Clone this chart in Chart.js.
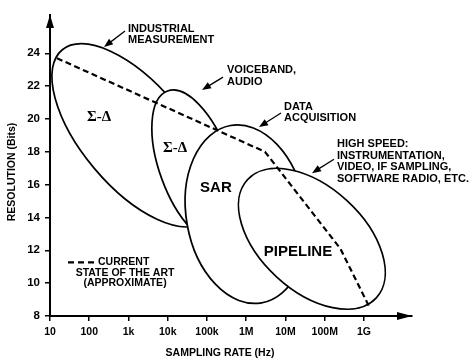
<!DOCTYPE html>
<html lang="en">
<head>
<meta charset="UTF-8">
<title>ADC architectures: resolution vs sampling rate</title>
<script src="https://cdn.jsdelivr.net/npm/chart.js"></script>
<style>
  body { margin: 0; background: #fff; }
  canvas { display: block; }
</style>
</head>
<body>
<canvas id="myChart" width="474" height="362"></canvas>
<script>
// axis ticks
const rateTicks = [10, 100, 1e3, 1e4, 1e5, 1e6, 1e7, 1e8, 1e9];
const rateLabels = ['10', '100', '1k', '10k', '100k', '1M', '10M', '100M', '1G'];
const bitTicks = [8, 10, 12, 14, 16, 18, 20, 22, 24];

// current state of the art (dashed line)
const artRate = [15, 3.0e6, 2.5e8, 1.4e9];
const artBits = [23.7, 18.0, 12.1, 8.5];

// architecture regions: centre, end of long axis, end of short axis (Hz, bits)
const regionNames = ['Σ-Δ', 'Σ-Δ', 'SAR', 'PIPELINE'];
const regionCentre = [[1380, 19.0], [49400, 17.1], [9.9e5, 14.2], [4.7e7, 12.7]];
const regionLong = [[94200, 13.8], [2.47e5, 12.5], [2.46e6, 8.8], [2.06e9, 9.1]];
const regionShort = [[14300, 21.0], [3.4e5, 17.9], [3.15e7, 14.8], [3.8e8, 15.0]];
const regionLabelAt = [[177, 20.1], [15300, 18.2], [1.69e5, 15.8], [2.08e7, 11.9]];

// callouts: text, where the text starts, arrow tail and head (Hz, bits)
const callouts = [
  { lines: ['INDUSTRIAL', 'MEASUREMENT'], at: [970, 25.48], tail: [815, 25.36], head: [238, 24.38] },
  { lines: ['VOICEBAND,', 'AUDIO'], at: [3.24e5, 22.98], tail: [2.56e5, 22.55], head: [74600, 21.76] },
  { lines: ['DATA', 'ACQUISITION'], at: [9.16e6, 20.73], tail: [7.67e6, 20.36], head: [2.11e6, 19.51] },
  { lines: ['HIGH SPEED:', 'INSTRUMENTATION,', 'VIDEO, IF SAMPLING,', 'SOFTWARE RADIO, ETC.'],
    at: [2.05e8, 18.47], tail: [1.72e8, 17.55], head: [4.73e7, 16.7] }
];
const legendAt = [815, 11.27];

const FONT = '"Liberation Sans", Arial, sans-serif';

function arrow(ctx, x0, y0, x1, y1) {
  const a = Math.atan2(y1 - y0, x1 - x0);
  ctx.beginPath();
  ctx.moveTo(x0, y0);
  ctx.lineTo(x1 - 6 * Math.cos(a), y1 - 6 * Math.sin(a));
  ctx.stroke();
  ctx.beginPath();
  ctx.moveTo(x1, y1);
  ctx.lineTo(x1 - 9 * Math.cos(a) + 3.5 * Math.sin(a), y1 - 9 * Math.sin(a) - 3.5 * Math.cos(a));
  ctx.lineTo(x1 - 9 * Math.cos(a) - 3.5 * Math.sin(a), y1 - 9 * Math.sin(a) + 3.5 * Math.cos(a));
  ctx.closePath();
  ctx.fill();
}

const regionsPlugin = {
  id: 'regions',
  beforeDatasetsDraw(chart) {
    const {ctx, scales: {x, y}} = chart;
    ctx.save();
    ctx.lineWidth = 1.7;
    ctx.strokeStyle = '#000';
    regionCentre.forEach((c, i) => {
      const cx = x.getPixelForValue(c[0]), cy = y.getPixelForValue(c[1]);
      const lx = x.getPixelForValue(regionLong[i][0]) - cx;
      const ly = y.getPixelForValue(regionLong[i][1]) - cy;
      const sx = x.getPixelForValue(regionShort[i][0]) - cx;
      const sy = y.getPixelForValue(regionShort[i][1]) - cy;
      ctx.beginPath();
      ctx.ellipse(cx, cy, Math.hypot(lx, ly), Math.hypot(sx, sy), Math.atan2(ly, lx), 0, Math.PI * 2);
      ctx.fillStyle = '#fff';
      ctx.fill();
      ctx.stroke();
    });
    ctx.fillStyle = '#000';
    ctx.textAlign = 'center';
    ctx.textBaseline = 'middle';
    regionNames.forEach((name, i) => {
      ctx.font = name === 'Σ-Δ' ? 'bold 15px "Liberation Serif", serif' : 'bold 15px ' + FONT;
      ctx.fillText(name, x.getPixelForValue(regionLabelAt[i][0]), y.getPixelForValue(regionLabelAt[i][1]));
    });
    ctx.restore();
  },
  afterDraw(chart) {
    const {ctx, chartArea: area, scales: {x, y}} = chart;
    ctx.save();
    ctx.fillStyle = '#000';
    ctx.strokeStyle = '#000';

    // axis arrow heads
    ctx.beginPath();
    ctx.moveTo(area.left, area.top);
    ctx.lineTo(area.left - 4, area.top + 13);
    ctx.lineTo(area.left + 4, area.top + 13);
    ctx.closePath();
    ctx.fill();
    ctx.beginPath();
    ctx.moveTo(area.right, area.bottom);
    ctx.lineTo(area.right - 15, area.bottom - 4);
    ctx.lineTo(area.right - 15, area.bottom + 4);
    ctx.closePath();
    ctx.fill();

    // callouts
    ctx.font = 'bold 11px ' + FONT;
    ctx.textAlign = 'left';
    ctx.textBaseline = 'middle';
    ctx.lineWidth = 1.3;
    callouts.forEach(c => {
      const tx = x.getPixelForValue(c.at[0]), ty = y.getPixelForValue(c.at[1]);
      c.lines.forEach((t, k) => ctx.fillText(t, tx, ty + k * 11.5));
      arrow(ctx, x.getPixelForValue(c.tail[0]), y.getPixelForValue(c.tail[1]),
        x.getPixelForValue(c.head[0]), y.getPixelForValue(c.head[1]));
    });

    // legend for the dashed line
    const lx = x.getPixelForValue(legendAt[0]), ly = y.getPixelForValue(legendAt[1]);
    ctx.lineWidth = 2.2;
    ctx.setLineDash([6, 4]);
    ctx.beginPath();
    ctx.moveTo(lx - 57, ly);
    ctx.lineTo(lx - 30, ly);
    ctx.stroke();
    ctx.setLineDash([]);
    ctx.font = 'bold 10.5px ' + FONT;
    ctx.fillText('CURRENT', lx - 27, ly);
    ctx.textAlign = 'center';
    ctx.fillText('STATE OF THE ART', lx, ly + 10.5);
    ctx.fillText('(APPROXIMATE)', lx, ly + 21);

    // axis titles
    ctx.font = 'bold 10.5px ' + FONT;
    ctx.fillText('SAMPLING RATE (Hz)', 220, 353);
    ctx.translate(12, 172);
    ctx.rotate(-Math.PI / 2);
    ctx.fillText('RESOLUTION (Bits)', 0, 0);
    ctx.restore();
  }
};

Chart.defaults.font.family = FONT;
Chart.defaults.font.weight = 'bold';
Chart.defaults.color = '#000';

const ctx = document.getElementById('myChart').getContext('2d');
new Chart(ctx, {
  type: 'line',
  data: {
    datasets: [{
      label: 'Current state of the art',
      data: artRate.map((r, i) => ({x: r, y: artBits[i]})),
      borderColor: '#000',
      borderWidth: 2.2,
      borderDash: [6, 3.5],
      pointRadius: 0,
      tension: 0,
      fill: false
    }]
  },
  options: {
    responsive: false,
    animation: false,
    layout: { padding: { top: 15, right: 62, left: 0, bottom: 0 } },
    plugins: { legend: { display: false }, tooltip: { enabled: false } },
    scales: {
      x: {
        type: 'logarithmic',
        min: 10,
        max: Math.pow(10, 10.223),
        afterBuildTicks: s => { s.ticks = rateTicks.map(v => ({value: v})); },
        afterFit: s => { s.height = 46; },
        ticks: {
          autoSkip: false, maxRotation: 0, padding: 5,
          font: { size: 10.5, weight: 'bold' },
          callback: (v, i) => rateLabels[i]
        },
        grid: { drawOnChartArea: false, drawTicks: true, tickLength: 5, color: '#000', lineWidth: 1.5 },
        border: { display: true, color: '#000', width: 2 }
      },
      y: {
        type: 'linear',
        min: 8,
        max: 26.33,
        afterBuildTicks: s => { s.ticks = bitTicks.map(v => ({value: v})); },
        afterFit: s => { s.width = 50; },
        ticks: { padding: 5, font: { size: 11.5, weight: 'bold' } },
        grid: { drawOnChartArea: false, drawTicks: true, tickLength: 5, color: '#000', lineWidth: 1.5 },
        border: { display: true, color: '#000', width: 2 }
      }
    }
  },
  plugins: [regionsPlugin]
});
</script>
</body>
</html>
